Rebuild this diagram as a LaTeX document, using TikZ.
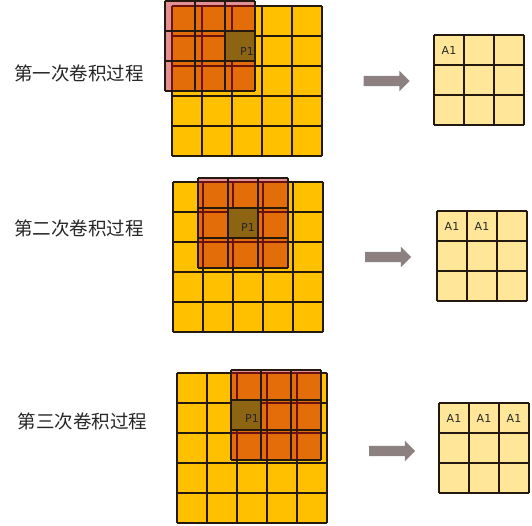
\documentclass[tikz,border=0pt]{standalone}
\usepackage{fontspec}
\setsansfont{DejaVu Sans}
\newfontfamily\cjkfont{Noto Sans CJK SC}
\usetikzlibrary{shapes.arrows, positioning}

\definecolor{gridyellow}{RGB}{255,192,0}
\definecolor{outyellow}{RGB}{255,230,153}
\definecolor{kernelred}{RGB}{195,10,20}
\definecolor{darkcell}{RGB}{140,100,18}
\definecolor{gridline}{RGB}{35,25,15}
\definecolor{arrowgray}{RGB}{140,128,128}

\begin{document}
\begin{tikzpicture}[
    x=1pt, y=-1pt,
    every node/.style={inner sep=0pt},
    stagelabel/.style={font=\cjkfont\fontsize{18.5}{20}\selectfont, text=black!85},
    cellmark/.style={font=\sffamily\fontsize{11}{13}\selectfont, text=black!85},
    arrowbox/.style={single arrow, fill=arrowgray, inner xsep=0pt, inner ysep=5pt,
        single arrow head extend=5pt, single arrow head indent=0pt, minimum height=46pt},
    gridlines/.style={draw=gridline, line width=1.3pt}
    ]

\useasboundingbox (0,0) rectangle (532,525);
\fill[white] (0,0) rectangle (532,525);

% Input grids with kernel
\foreach \gx/\gy/\kx/\ky/\dx [count=\s] in {172/6/165/1/2, 173/182/198/178/1, 177/373/231/370/0} {
    \fill[gridyellow] (\gx,\gy) rectangle ++(150,150);
    \foreach \i in {0,...,5} {
        \draw[gridlines] (\gx+30*\i,\gy) -- ++(0,150);
        \draw[gridlines] (\gx,\gy+30*\i) -- ++(150,0);
    }
    \fill[kernelred, fill opacity=0.45] (\kx,\ky) rectangle ++(90,90);
    \fill[darkcell] (\kx+30*\dx,\ky+30) rectangle ++(30,30);
    \foreach \i in {0,...,3} {
        \draw[gridlines] (\kx+30*\i,\ky) -- ++(0,90);
        \draw[gridlines] (\kx,\ky+30*\i) -- ++(90,0);
    }
    \node[cellmark] (p\s) at (\gx+75,\gy+45) {P1};
}

% Output grids
\foreach \ox/\oy/\n [count=\s] in {434/35/1, 437/211/2, 439/403/3} {
    \fill[outyellow] (\ox,\oy) rectangle ++(90,90);
    \foreach \i in {0,...,3} {
        \draw[gridlines] (\ox+30*\i,\oy) -- ++(0,90);
        \draw[gridlines] (\ox,\oy+30*\i) -- ++(90,0);
    }
    \foreach \j in {1,...,\n}
        \node[cellmark] (a\s\j) at (\ox+30*\j-15,\oy+15) {A1};
}

% Labels
\node[stagelabel] (stage1) at (79,73.5) {第一次卷积过程};
\node[stagelabel] (stage2) at (79,228.5) {第二次卷积过程};
\node[stagelabel] (stage3) at (82.5,421) {第三次卷积过程};

% Arrows
\node[arrowbox] (arr1) at (384,81) {};
\node[arrowbox] (arr2) at (385.5,257) {};
\node[arrowbox] (arr3) at (389.5,451) {};

\end{tikzpicture}
\end{document}
